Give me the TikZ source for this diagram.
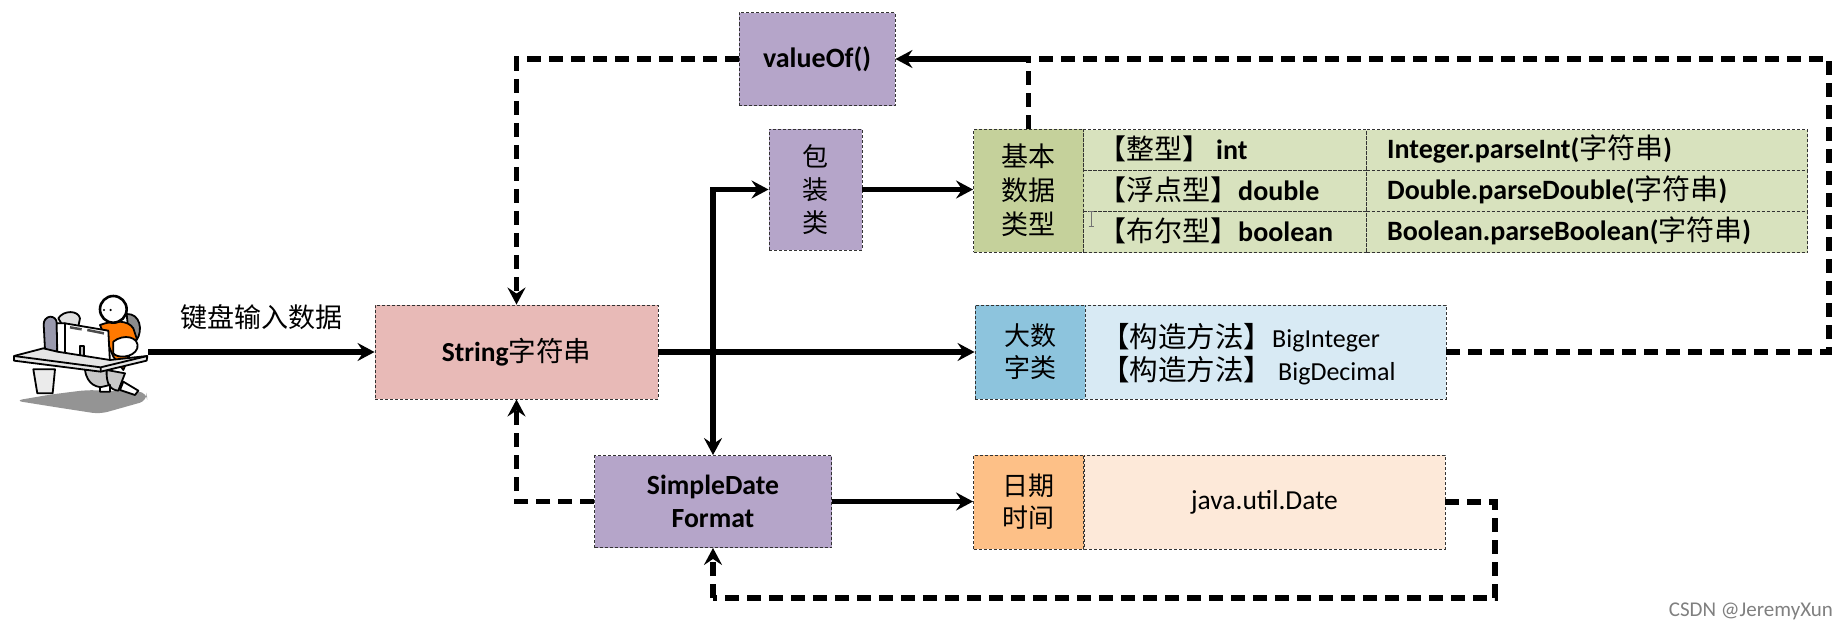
\documentclass[tikz,border=0pt]{standalone}
\usepackage{fontspec}
\setmainfont{Carlito}
\newfontfamily\cjk{Noto Sans CJK SC}
\usetikzlibrary{arrows.meta,calc}
\definecolor{cPink}{HTML}{E8BAB7}
\definecolor{cPurple}{HTML}{B5A5C9}
\definecolor{cGreenD}{HTML}{C5D19B}
\definecolor{cGreenL}{HTML}{D8E2BE}
\definecolor{cBlueD}{HTML}{8DC4DD}
\definecolor{cBlueL}{HTML}{D8EAF4}
\definecolor{cOrangeD}{HTML}{FDC087}
\definecolor{cOrangeL}{HTML}{FDE9D9}
\newcommand{\cn}[1]{{\cjk\mdseries #1}}
\newcommand{\cnb}[1]{{\fontsize{28.5}{32}\selectfont\cjk\mdseries #1}}
\tikzset{
  >={Stealth[length=17pt,width=18pt,inset=6pt]},
  box/.style={draw=black!80,line width=0.9pt,densely dashed,inner sep=0pt,align=center,
    font=\fontsize{26}{34}\selectfont},
  cell/.style={box,anchor=center},
  flow/.style={line width=5.3pt,->},
  flowb/.style={line width=5.3pt,<->},
  dashln/.style={line width=5.3pt,dash pattern=on 14pt off 8pt},
  dashto/.style={dashln,->},
  ink/.style={draw=black,line width=1.8pt,line join=round},
}
\begin{document}
\begin{tikzpicture}[x=1pt,y=-1pt]
\useasboundingbox (0,0) rectangle (1846,629);
\fill[white] (0,0) rectangle (1846,629);

% person at the desk
\begin{scope}[shift={(0,270)},x=0.3333pt,y=-0.3333pt]
  \fill[black!42,rounded corners=8pt] (45,392) -- (150,374) -- (260,360) -- (440,366) -- (442,392) -- (300,432) -- (170,412) -- cycle;
  \draw[ink,fill=black!8] (100,298) -- (165,298) -- (158,370) -- (112,370) -- cycle;
  \draw[ink,fill=black!22] (255,300) .. controls (262,345) and (290,355) .. (325,352) -- (330,300) -- cycle;
  \draw[ink,fill=black!22] (320,300) .. controls (318,340) and (330,360) .. (355,362) -- (375,310) -- cycle;
  \draw[ink,fill=white] (300,352) -- (330,345) -- (330,365) -- (300,365) -- cycle;
  \draw[ink,fill=white] (370,335) -- (415,362) -- (405,375) -- (360,360) -- cycle;
  \draw[ink,fill=black!45] (380,132) .. controls (420,130) and (430,180) .. (410,210) -- (385,180) -- cycle;
  \draw[ink,fill=orange!95!red] (300,165) .. controls (340,150) and (385,150) .. (400,175) -- (410,205) -- (370,300) -- (340,260) -- cycle;
  \draw[draw=black,line width=2.6pt,fill=white] (340,118) circle (40);
  \fill (312,120) circle (3.5) (332,120) circle (3.5);
  \draw[ink,fill=black!12] (175,145) .. controls (190,120) and (235,120) .. (240,145) -- (235,170) -- (190,170) -- cycle;
  \draw[ink,fill=blue!20!black!40,rounded corners=7] (130,142) -- (170,138) -- (172,255) -- (136,258) -- cycle;
  \draw[ink,fill=white] (170,160) -- (195,160) -- (195,250) -- (172,255) -- cycle;
  \draw[ink,fill=white] (195,160) -- (325,182) -- (330,278) -- (195,250) -- cycle;
  \draw[line width=2.5pt,black!70] (210,172) -- (245,178) (262,180) -- (312,190);
  \draw[ink,fill=black!25] (240,228) rectangle (252,268);
  \draw[ink,fill=white] (340,215) .. controls (370,190) and (420,200) .. (412,235) .. controls (400,265) and (350,265) .. (340,250) -- cycle;
  \draw[ink,fill=black!10] (42,258) -- (130,235) -- (172,245) -- (330,270) -- (442,258) -- (440,272) -- (302,305) -- (42,272) -- cycle;
  \draw[ink] (42,258) -- (302,292) -- (442,258) (302,292) -- (302,305);
\end{scope}

% boxes
\node[cell,fill=cPink,minimum width=283pt,minimum height=94pt,font=\fontsize{27.5}{34}\selectfont\bfseries] (str) at (516.5,352) {String\cn{字符串}};
\node[cell,fill=cPurple,minimum width=156pt,minimum height=93pt,font=\fontsize{28}{34}\selectfont\bfseries] (val) at (817,59) {valueOf()};
\node[cell,fill=cPurple,minimum width=93pt,minimum height=121pt,font=\fontsize{26}{33}\selectfont] (pkg) at (815.5,189.5) {\cn{包}\\\cn{装}\\\cn{类}};
\node[cell,fill=cPurple,minimum width=237pt,minimum height=92pt,font=\fontsize{27.7}{33}\selectfont\bfseries] (sdf) at (713,501.5) {SimpleDate\\Format};

% basic data types
\node[cell,fill=cGreenD,minimum width=110pt,minimum height=123pt,font=\fontsize{27}{34}\selectfont] (basic) at (1028.5,190.5) {\cn{基本}\\\cn{数据}\\\cn{类型}};
\node[cell,fill=cGreenL,minimum width=283pt,minimum height=41pt] (r1a) at (1225,150) {};
\node[cell,fill=cGreenL,minimum width=283pt,minimum height=41pt] (r2a) at (1225,191) {};
\node[cell,fill=cGreenL,minimum width=283pt,minimum height=41pt] (r3a) at (1225,232) {};
\node[cell,fill=cGreenL,minimum width=441pt,minimum height=41pt] (r1b) at (1587,150) {};
\node[cell,fill=cGreenL,minimum width=441pt,minimum height=41pt] (r2b) at (1587,191) {};
\node[cell,fill=cGreenL,minimum width=441pt,minimum height=41pt] (r3b) at (1587,232) {};
\begin{scope}[every node/.style={font=\fontsize{28}{30}\selectfont\bfseries,anchor=west,inner sep=0pt}]
  \node (t1a) at (1098,149) {\cn{【整型】}\kern6pt int};
  \node (t2a) at (1098,190) {\cn{【浮点型】}double};
  \node (t3a) at (1098,231) {\cn{【布尔型】}boolean};
  \node (t1b) at (1387,149) {Integer.parseInt(\cn{字符串})};
  \node (t2b) at (1387,190) {Double.parseDouble(\cn{字符串})};
  \node (t3b) at (1387,231) {Boolean.parseBoolean(\cn{字符串})};
\end{scope}

% big numbers
\node[cell,fill=cBlueD,minimum width=110pt,minimum height=94pt,font=\fontsize{26}{32}\selectfont] (big) at (1030,352) {\cn{大数}\\\cn{字类}};
\node[cell,fill=cBlueL,minimum width=361pt,minimum height=94pt] (bigv) at (1265.5,352) {};
\node[inner sep=0pt,anchor=west,align=left,font=\fontsize{26}{33}\selectfont] (bigt) at (1101,354) {\cnb{【构造方法】}BigInteger\\\cnb{【构造方法】}\kern6pt BigDecimal};

% date and time
\node[cell,fill=cOrangeD,minimum width=110pt,minimum height=94pt,font=\fontsize{26}{32}\selectfont] (dat) at (1028.5,502) {\cn{日期}\\\cn{时间}};
\node[cell,fill=cOrangeL,minimum width=361pt,minimum height=94pt,font=\fontsize{27.5}{32}\selectfont] (datv) at (1264.5,502) {\raisebox{-3pt}{java.util.Date}};

% person anchor and free coordinates
\coordinate (pc) at (148,352);
\coordinate (j) at (basic.north |- val.east);
\coordinate (c1) at (1829,352);
\coordinate (c2) at (1829,59);
\coordinate (d1) at (1495,502);
\coordinate (d2) at (1495,598);
\coordinate (d3) at (sdf.south |- d2);

% connectors
\draw[flow] (pc) -- (str.west);
\node[inner sep=0pt,font=\fontsize{27}{30}\selectfont] (inp) at (261,317) {\cn{键盘输入数据}};
\draw[flow] (str.east) -- (big.west);
\draw[flowb] (sdf.north) |- (pkg.west);
\draw[flow] (pkg.east) -- (pkg.east -| basic.west);
\draw[flow] (sdf.east) -- (sdf.east -| dat.west);
\draw[flow] (j) -- (val.east);
\draw[dashln] (basic.north) -- (j);
\draw[dashln] (bigv.east) -- (c1) -- (c2) -- (j);
\draw[dashto] (val.west) -| (str.north);
\draw[dashto] (sdf.west) -| (str.south);
\draw[dashln] (datv.east) -- (d1) -- (d2) -- (d3);
\draw[dashto] (d3) -- (sdf.south);

% cursor and watermark
\draw[black!55,line width=0.8pt] (1091,211) -- (1091,226) (1088.5,211) -- (1093.5,211) (1088.5,226) -- (1093.5,226);
\node[inner sep=0pt,text=black!50,font=\fontsize{21}{24}\selectfont,anchor=east] (wm) at (1833,611) {CSDN @JeremyXun};
\end{tikzpicture}
\end{document}
